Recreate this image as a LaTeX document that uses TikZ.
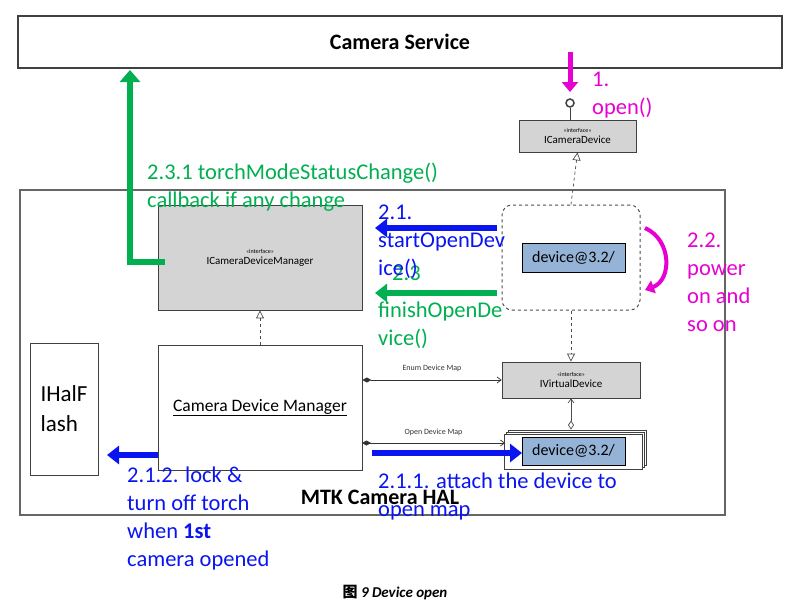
\documentclass[tikz,border=0pt]{standalone}
\usepackage{fontspec}
\setmainfont{Carlito}
\newfontfamily\cjk{Noto Sans CJK SC}
\usetikzlibrary{arrows.meta}
\definecolor{mag}{RGB}{230,0,210}
\definecolor{grn}{RGB}{0,176,80}
\definecolor{blu}{RGB}{10,20,240}
\definecolor{gbox}{RGB}{212,212,212}
\definecolor{dbox}{RGB}{149,179,215}
\begin{document}
\begin{tikzpicture}[x=1pt,y=-1pt,
 box/.style={draw=black!75,line width=0.8pt,inner sep=0pt},
 gray/.style={box,fill=gbox},
 lbl/.style={font=\fontsize{22.5}{28}\selectfont,align=left,anchor=north west,inner sep=0pt},
 small/.style={font=\fontsize{11}{11}\selectfont,align=center},
 fat/.style={line width=6pt,-{Triangle[length=12pt,width=18pt]}},
 real/.style={draw=black!70,dashed,line width=0.7pt,-{Triangle[open,length=8pt,width=8pt]}}]
\useasboundingbox (0,0) rectangle (786,613);
% Camera Service
\node[box,line width=1.2pt,minimum width=764pt,minimum height=52pt,font=\bfseries\fontsize{22}{24}\selectfont] (cs) at (400,42) {Camera Service};
% HAL
\node[draw=black!60,line width=1.5pt,minimum width=705pt,minimum height=325pt,inner sep=0pt] (hal) at (372.5,352.5) {};
\node[font=\bfseries\fontsize{22}{24}\selectfont] (halt) at (380,497) {MTK Camera HAL};
% ICameraDevice
\node[gray,minimum width=117pt,minimum height=32pt,small] (icd) at (577.5,136) {\fontsize{6}{7}\selectfont<<interface>>\\ICameraDevice};
\node[circle,draw=black!75,line width=1.5pt,minimum size=8pt,inner sep=0pt] (lol) at (570,103) {};
\draw[black!75,line width=1pt] (lol) -- (lol|-icd.north);
\coordinate (mtop) at (570,52);
\draw[mag,line width=5pt,-{Triangle[length=10pt,width=16pt]}] (mtop) -- (570,92);
\node[lbl,text=mag] (l1) at (592,72) {1.\\open()};
% ICameraDeviceManager
\node[gray,minimum width=204pt,minimum height=105pt,small] (icdm) at (260,257.5) {\fontsize{6}{7}\selectfont<<interface>>\\ICameraDeviceManager};
% dashed box
\node[draw=black!70,dashed,line width=1pt,rounded corners=10pt,minimum width=138pt,minimum height=105pt] (dbx) at (571,257.5) {};
\node[draw=black,fill=dbox,line width=1pt,minimum width=103pt,minimum height=29pt,font=\fontsize{16}{17}\selectfont] (dev1) at (573.5,257.5) {\raisebox{-9pt}{device@3.2/}};
% IVirtualDevice
\node[gray,minimum width=138pt,minimum height=36pt,small] (ivd) at (571,380) {\fontsize{6}{7}\selectfont<<interface>>\\IVirtualDevice};
% stacked devices
\node[box,fill=white,minimum width=138pt,minimum height=35pt] (st3) at (577,447.5) {};
\node[box,fill=white,minimum width=138pt,minimum height=35pt] (st2) at (575,449.5) {};
\node[box,fill=white,minimum width=138pt,minimum height=35pt] (st1) at (573,451.5) {};
\node[draw=black,fill=dbox,line width=1pt,minimum width=103pt,minimum height=28pt,font=\fontsize{16}{17}\selectfont] (dev2) at (573.5,451) {\raisebox{-9pt}{device@3.2/}};
% CDM
\node[box,fill=white,minimum width=204pt,minimum height=125pt,font=\fontsize{17.5}{19}\selectfont] (cdm) at (260,407.5) {\underline{Camera Device Manager}};
% IHalFlash
\node[box,fill=white,minimum width=68pt,minimum height=132pt,font=\fontsize{23}{30}\selectfont,align=left] (fl) at (64,409) {IHalF\\lash};
% realizations
\draw[real] (dbx.north) -- (icd.south);
\draw[real] (dbx.south) -- (ivd.north);
\draw[real] (cdm.north) -- (icdm.south);
% associations
\draw[black!80,line width=0.7pt,{Diamond[length=9pt,width=5pt]}-{Straight Barb[length=4pt,width=6pt]}] (cdm.east|-ivd) -- node[above=5pt,font=\fontsize{8}{9}\selectfont]{Enum Device Map} (ivd.west);
\draw[black!80,line width=0.7pt,{Diamond[length=9pt,width=5pt]}-{Straight Barb[length=4pt,width=6pt]}] (362,443) -- node[above=4pt,font=\fontsize{8}{9}\selectfont]{Open Device Map} (505,443);
\draw[black!70,line width=0.7pt,{Diamond[open,length=9pt,width=6pt]}-{Straight Barb[length=4pt,width=6pt]}] (ivd.south|-st3.north) -- (ivd.south);
% fat arrows
\coordinate (a1s) at (497,228); \coordinate (a1e) at (375,228);
\draw[blu,fat] (a1s) -- (a1e);
\coordinate (a2s) at (497,293); \coordinate (a2e) at (375,293);
\draw[grn,fat] (a2s) -- (a2e);
\coordinate (g1) at (165,262); \coordinate (g2) at (130,70);
\draw[grn,line width=6pt,-{Triangle[length=12pt,width=20pt]}] (g1) -- (130,262) -- (g2);
\coordinate (b1) at (158,455); \coordinate (b2) at (107,455);
\draw[blu,fat] (b1) -- (b2);
\coordinate (b3) at (372,453); \coordinate (b4) at (522,453);
\draw[blu,fat] (b3) -- (b4);
% curved magenta
\coordinate (c1) at (645,228); \coordinate (c2) at (645,290);
\draw[mag,line width=4pt,-{Triangle[length=9pt,width=13pt]}] (c1) .. controls (672,240) and (672,280) .. (c2);
% labels
\node[lbl,text=grn] (t231) at (147,163) {2.3.1 torchModeStatusChange()\\callback if any change};
\node[lbl,text=grn] (t23) at (392,266) {2.3};
\node[lbl,text=blu] (t21) at (378,205) {2.1.\\startOpenDev\\ice()};
\node[lbl,text=grn] (t23b) at (378,302) {finishOpenDe\\vice()};
\node[lbl,text=mag] (t22) at (687,233) {2.2.\\power\\on and\\so on};
\node[lbl,text=blu] (t211) at (378,473) {2.1.1. attach the device to\\open map};
\node[lbl,text=blu] (t212) at (127,467) {2.1.2. lock \&\\turn off torch\\when \textbf{1st}\\camera opened};
\node[font=\bfseries\itshape\fontsize{15}{17}\selectfont] (cap) at (395,593) {{\cjk 图} 9 Device open};
\end{tikzpicture}
\end{document}
